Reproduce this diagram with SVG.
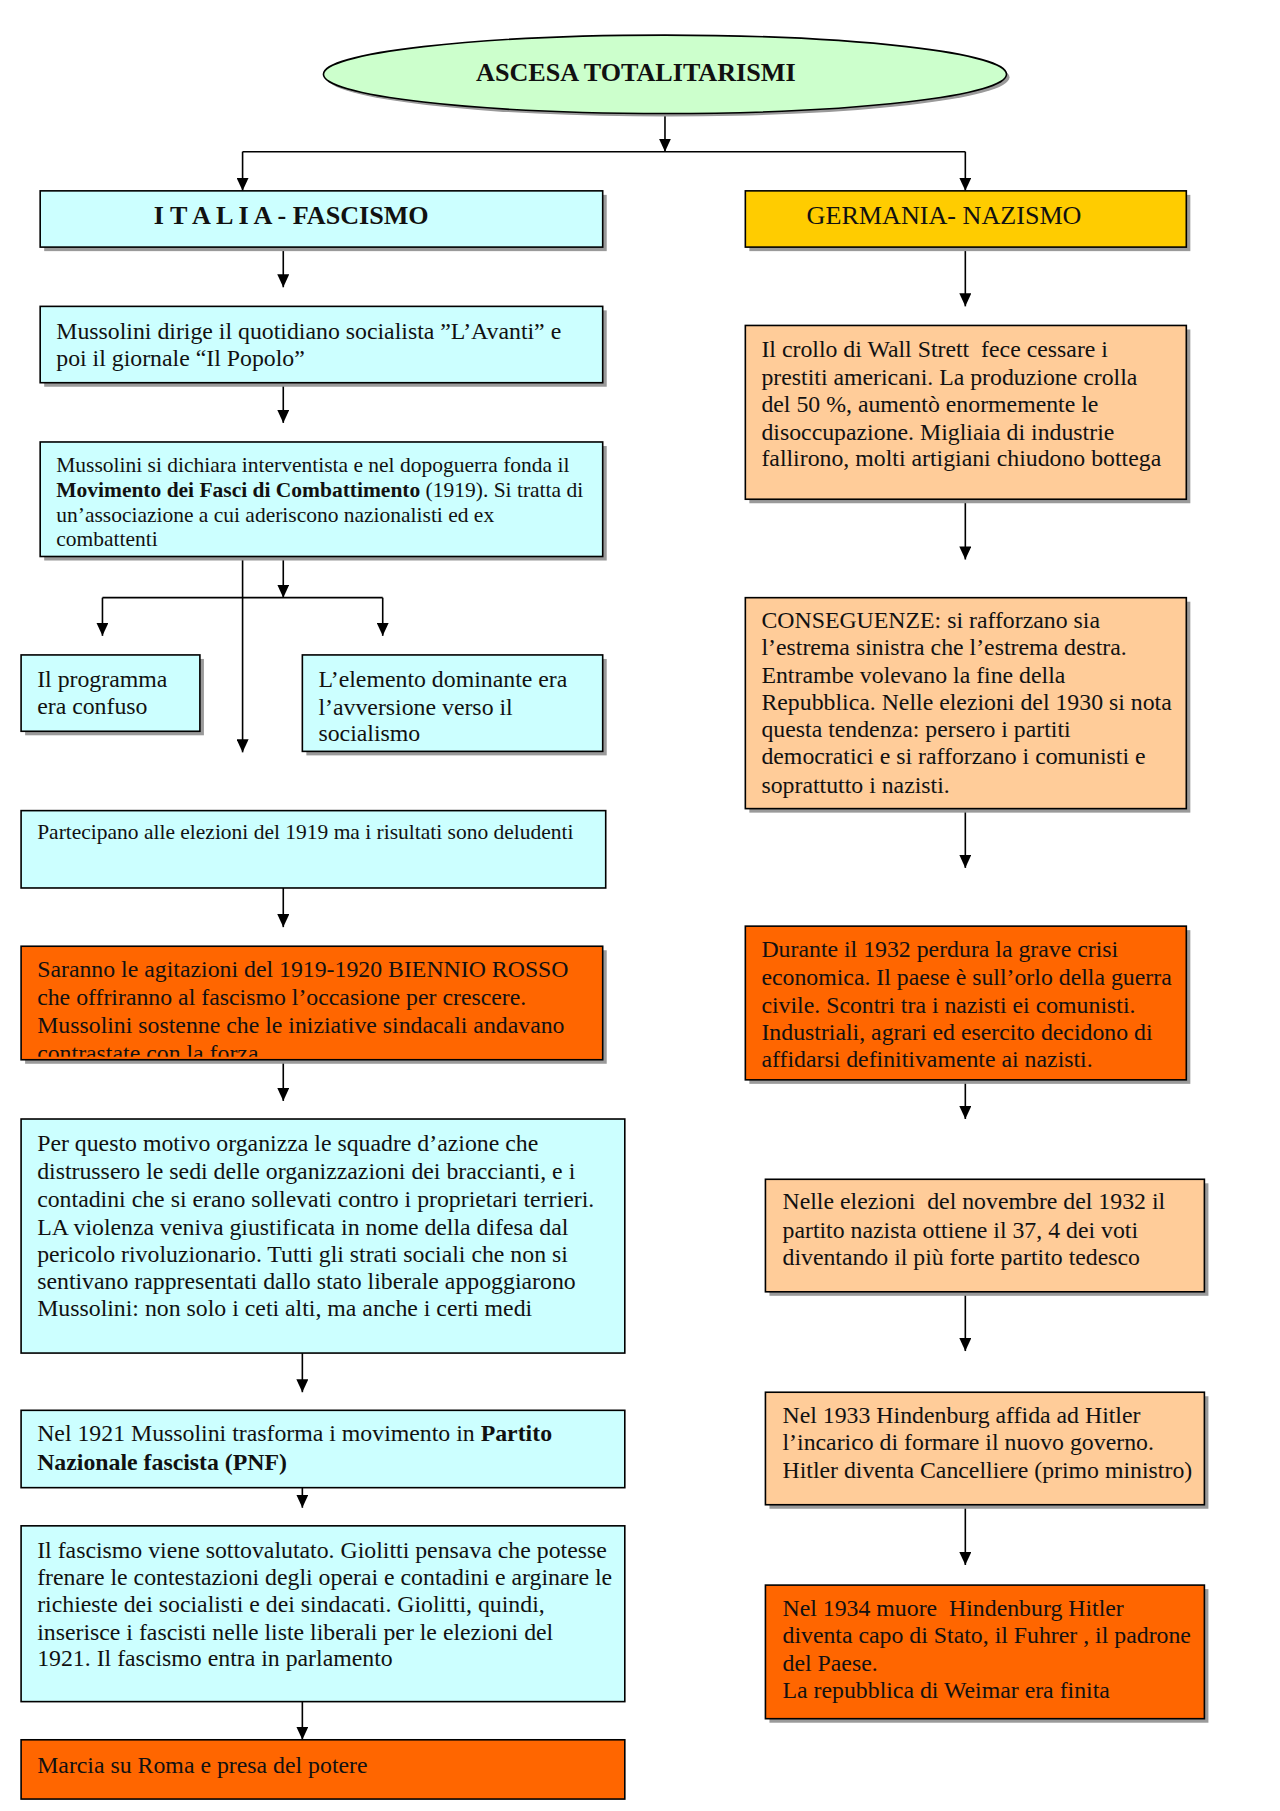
<svg xmlns="http://www.w3.org/2000/svg" width="1280" height="1811" viewBox="0 0 1280 1811">
<defs>
<style>
.sh{fill:#9a9a9a}
.b{stroke:#000;stroke-width:1.6}
.cyan{fill:#CCFFFF}
.peach{fill:#FFCC99}
.orange{fill:#FF6600}
.yellow{fill:#FFCC00}
.t{font-family:"Liberation Serif","Times New Roman",serif;font-size:23.7px;fill:#111}
.s{font-family:"Liberation Serif","Times New Roman",serif;font-size:21.4px;fill:#111}
.h{font-size:26px}
.bold{font-weight:bold}
.c{fill:none;stroke:#000;stroke-width:1.6}
</style>
<marker id="ah" markerUnits="userSpaceOnUse" markerWidth="13" markerHeight="12" refX="13" refY="6" orient="auto">
<path d="M0,0 L13,6 L0,12 z" fill="#000"/>
</marker>
<clipPath id="clipOr"><rect x="21" y="942" width="579" height="110"/></clipPath>
</defs>
<rect width="1280" height="1811" fill="#fff"/>
<g transform="scale(1.0045)">
<g id="connectors">
<path class="c" d="M662,113 V151" marker-end="url(#ah)"/>
<path class="c" d="M241.5,151 H961"/>
<path class="c" d="M241.5,151 V190" marker-end="url(#ah)"/>
<path class="c" d="M961,151 V190" marker-end="url(#ah)"/>
<path class="c" d="M282,246 V286" marker-end="url(#ah)"/>
<path class="c" d="M282,381 V421" marker-end="url(#ah)"/>
<path class="c" d="M241.5,554 V749" marker-end="url(#ah)"/>
<path class="c" d="M282,554 V595" marker-end="url(#ah)"/>
<path class="c" d="M102,595 H381"/>
<path class="c" d="M102,595 V633" marker-end="url(#ah)"/>
<path class="c" d="M381,595 V633" marker-end="url(#ah)"/>
<path class="c" d="M282,884 V923" marker-end="url(#ah)"/>
<path class="c" d="M282,1055 V1096" marker-end="url(#ah)"/>
<path class="c" d="M301,1347 V1386" marker-end="url(#ah)"/>
<path class="c" d="M301,1481 V1501" marker-end="url(#ah)"/>
<path class="c" d="M301,1694 V1732" marker-end="url(#ah)"/>
<path class="c" d="M961,246 V305" marker-end="url(#ah)"/>
<path class="c" d="M961,497 V557" marker-end="url(#ah)"/>
<path class="c" d="M961,805 V864" marker-end="url(#ah)"/>
<path class="c" d="M961,1075 V1114" marker-end="url(#ah)"/>
<path class="c" d="M961,1286 V1345" marker-end="url(#ah)"/>
<path class="c" d="M961,1498 V1558" marker-end="url(#ah)"/>
</g>

<g id="title">
<ellipse cx="665" cy="77" rx="340" ry="39" class="sh"/>
<ellipse cx="662" cy="74" rx="340" ry="39" fill="#CCFFCC" class="b"/>
<text x="633" y="81" text-anchor="middle" class="t bold h">ASCESA TOTALITARISMI</text>
</g>

<g id="italia">
<rect x="44" y="194" width="560" height="56" class="sh"/>
<rect x="40" y="190" width="560" height="56" class="cyan b"/>
<text x="153" y="223" class="t bold h">I T A L I A - FASCISMO</text>
</g>

<g id="germania">
<rect x="746" y="194" width="439" height="56" class="sh"/>
<rect x="742" y="190" width="439" height="56" class="yellow b"/>
<text x="803" y="223" class="t h">GERMANIA- NAZISMO</text>
</g>

<g id="avanti">
<rect x="44" y="309" width="560" height="76" class="sh"/>
<rect x="40" y="305" width="560" height="76" class="cyan b"/>
<text class="t"><tspan x="56" y="337">Mussolini dirige il quotidiano socialista ”L’Avanti” e</tspan><tspan x="56" y="364">poi il giornale “Il Popolo”</tspan></text>
</g>

<g id="fasci">
<rect x="44" y="444" width="560" height="114" class="sh"/>
<rect x="40" y="440" width="560" height="114" class="cyan b"/>
<text class="s"><tspan x="56" y="470">Mussolini si dichiara interventista e nel dopoguerra fonda il</tspan><tspan x="56" y="495"><tspan font-weight="bold">Movimento dei Fasci di Combattimento</tspan> (1919). Si tratta di</tspan><tspan x="56" y="520">un’associazione a cui aderiscono nazionalisti ed ex</tspan><tspan x="56" y="544">combattenti</tspan></text>
</g>

<g id="programma">
<rect x="25" y="656" width="178" height="76" class="sh"/>
<rect x="21" y="652" width="178" height="76" class="cyan b"/>
<text class="t"><tspan x="37" y="684">Il programma</tspan><tspan x="37" y="711">era confuso</tspan></text>
</g>

<g id="elemento">
<rect x="305" y="656" width="299" height="96" class="sh"/>
<rect x="301" y="652" width="299" height="96" class="cyan b"/>
<text class="t"><tspan x="317" y="684">L’elemento dominante era</tspan><tspan x="317" y="712">l’avversione verso il</tspan><tspan x="317" y="738">socialismo</tspan></text>
</g>

<g id="elezioni1919">
<rect x="21" y="807" width="582" height="77" class="cyan b"/>
<text x="37" y="835" class="s">Partecipano alle elezioni del 1919 ma i risultati sono deludenti</text>
</g>

<g id="biennio">
<rect x="25" y="946" width="579" height="113" class="sh"/>
<rect x="21" y="942" width="579" height="113" class="orange b"/>
<text class="t" clip-path="url(#clipOr)"><tspan x="37" y="973">Saranno le agitazioni del 1919-1920 BIENNIO ROSSO</tspan><tspan x="37" y="1000">che offriranno al fascismo l’occasione per crescere.</tspan><tspan x="37" y="1028">Mussolini sostenne che le iniziative sindacali andavano</tspan><tspan x="37" y="1056">contrastate con la forza</tspan></text>
</g>

<g id="squadre">
<rect x="21" y="1114" width="601" height="233" class="cyan b"/>
<text class="t"><tspan x="37" y="1146">Per questo motivo organizza le squadre d’azione che</tspan><tspan x="37" y="1174">distrussero le sedi delle organizzazioni dei braccianti, e i</tspan><tspan x="37" y="1202">contadini che si erano sollevati contro i proprietari terrieri.</tspan><tspan x="37" y="1229">LA violenza veniva giustificata in nome della difesa dal</tspan><tspan x="37" y="1256">pericolo rivoluzionario. Tutti gli strati sociali che non si</tspan><tspan x="37" y="1283">sentivano rappresentati dallo stato liberale appoggiarono</tspan><tspan x="37" y="1310">Mussolini: non solo i ceti alti, ma anche i certi medi</tspan></text>
</g>

<g id="pnf">
<rect x="21" y="1404" width="601" height="77" class="cyan b"/>
<text class="t"><tspan x="37" y="1435">Nel 1921 Mussolini trasforma i movimento in <tspan font-weight="bold">Partito</tspan></tspan><tspan x="37" y="1463" font-weight="bold">Nazionale fascista (PNF)</tspan></text>
</g>

<g id="giolitti">
<rect x="21" y="1519" width="601" height="175" class="cyan b"/>
<text class="t"><tspan x="37" y="1551">Il fascismo viene sottovalutato. Giolitti pensava che potesse</tspan><tspan x="37" y="1578">frenare le contestazioni degli operai e contadini e arginare le</tspan><tspan x="37" y="1605">richieste dei socialisti e dei sindacati. Giolitti, quindi,</tspan><tspan x="37" y="1633">inserisce i fascisti nelle liste liberali per le elezioni del</tspan><tspan x="37" y="1659">1921. Il fascismo entra in parlamento</tspan></text>
</g>

<g id="marcia">
<rect x="21" y="1732" width="601" height="59" class="orange b"/>
<text x="37" y="1765" class="t">Marcia su Roma e presa del potere</text>
</g>

<g id="wallstreet">
<rect x="746" y="328" width="439" height="173" class="sh"/>
<rect x="742" y="324" width="439" height="173" class="peach b"/>
<text class="t" xml:space="preserve"><tspan x="758" y="355">Il crollo di Wall Strett  fece cessare i</tspan><tspan x="758" y="383">prestiti americani. La produzione crolla</tspan><tspan x="758" y="410">del 50 %, aumentò enormemente le</tspan><tspan x="758" y="438">disoccupazione. Migliaia di industrie</tspan><tspan x="758" y="464">fallirono, molti artigiani chiudono bottega</tspan></text>
</g>

<g id="conseguenze">
<rect x="746" y="599" width="439" height="210" class="sh"/>
<rect x="742" y="595" width="439" height="210" class="peach b"/>
<text class="t"><tspan x="758" y="625">CONSEGUENZE: si rafforzano sia</tspan><tspan x="758" y="652">l’estrema sinistra che l’estrema destra.</tspan><tspan x="758" y="680">Entrambe volevano la fine della</tspan><tspan x="758" y="707">Repubblica. Nelle elezioni del 1930 si nota</tspan><tspan x="758" y="734">questa tendenza: persero i partiti</tspan><tspan x="758" y="761">democratici e si rafforzano i comunisti e</tspan><tspan x="758" y="789">soprattutto i nazisti.</tspan></text>
</g>

<g id="crisi1932">
<rect x="746" y="926" width="439" height="153" class="sh"/>
<rect x="742" y="922" width="439" height="153" class="orange b"/>
<text class="t"><tspan x="758" y="953">Durante il 1932 perdura la grave crisi</tspan><tspan x="758" y="981">economica. Il paese è sull’orlo della guerra</tspan><tspan x="758" y="1008">civile. Scontri tra i nazisti ei comunisti.</tspan><tspan x="758" y="1035">Industriali, agrari ed esercito decidono di</tspan><tspan x="758" y="1062">affidarsi definitivamente ai nazisti.</tspan></text>
</g>

<g id="novembre1932">
<rect x="766" y="1178" width="437" height="112" class="sh"/>
<rect x="762" y="1174" width="437" height="112" class="peach b"/>
<text class="t" xml:space="preserve"><tspan x="779" y="1204">Nelle elezioni  del novembre del 1932 il</tspan><tspan x="779" y="1232">partito nazista ottiene il 37, 4 dei voti</tspan><tspan x="779" y="1259">diventando il più forte partito tedesco</tspan></text>
</g>

<g id="hitler1933">
<rect x="766" y="1390" width="437" height="112" class="sh"/>
<rect x="762" y="1386" width="437" height="112" class="peach b"/>
<text class="t"><tspan x="779" y="1417">Nel 1933 Hindenburg affida ad Hitler</tspan><tspan x="779" y="1444">l’incarico di formare il nuovo governo.</tspan><tspan x="779" y="1471">Hitler diventa Cancelliere (primo ministro)</tspan></text>
</g>

<g id="hitler1934">
<rect x="766" y="1582" width="437" height="133" class="sh"/>
<rect x="762" y="1578" width="437" height="133" class="orange b"/>
<text class="t" xml:space="preserve"><tspan x="779" y="1609">Nel 1934 muore  Hindenburg Hitler</tspan><tspan x="779" y="1636">diventa capo di Stato, il Fuhrer , il padrone</tspan><tspan x="779" y="1664">del Paese.</tspan><tspan x="779" y="1690">La repubblica di Weimar era finita</tspan></text>
</g>
</g>
</svg>
